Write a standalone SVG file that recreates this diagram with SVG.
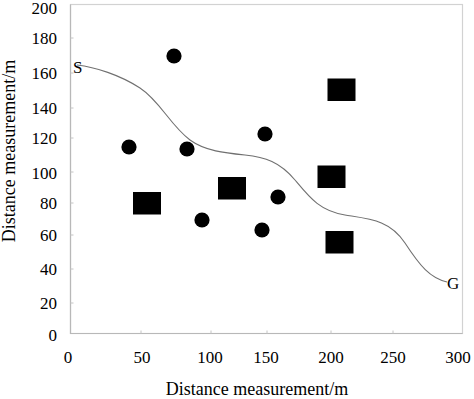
<svg xmlns="http://www.w3.org/2000/svg" width="474" height="399" viewBox="0 0 474 399">
<style>
.t{font-family:"Liberation Serif","Times New Roman",serif;fill:#000}
.tick{font-size:17px}
.yl{text-anchor:end}
.xl{text-anchor:middle}
.title{font-size:18px;text-anchor:middle}
.lab{font-size:17px}
.frame{fill:none;stroke:#d2d2d2;stroke-width:1.2}
.axis{fill:none;stroke:#b8b8b8;stroke-width:1.2}
.tk{stroke:#c4c4c4;stroke-width:1}
.dot{fill:#000}
.sq{fill:#000}
.path{fill:none;stroke:#707070;stroke-width:1.1}
</style>
<rect width="474" height="399" fill="#fff"/>
<g id="plot-frame">
<rect class="frame" x="70.5" y="4.5" width="392" height="329"/>
<path class="axis" d="M70.5,4.5 V333.5 H462.5"/>
<g id="ticks">
<path class="tk" d="M141,333.5v-3M211,333.5v-3M267,333.5v-3M331,333.5v-3M393,333.5v-3"/>
<path class="tk" d="M70.5,38h3M70.5,73h3M70.5,108h3M70.5,138h3M70.5,172h3M70.5,203h3M70.5,235h3M70.5,269h3M70.5,303h3"/>
</g>
</g>
<g id="y-labels" class="t tick yl">
<text x="57" y="13.5">200</text>
<text x="57" y="44">180</text>
<text x="57" y="79">160</text>
<text x="57" y="114">140</text>
<text x="57" y="144">120</text>
<text x="57" y="179">100</text>
<text x="57" y="209">80</text>
<text x="57" y="241">60</text>
<text x="57" y="275">40</text>
<text x="57" y="309">20</text>
<text x="57" y="341">0</text>
</g>
<g id="x-labels" class="t tick xl">
<text x="68" y="363">0</text>
<text x="142" y="363">50</text>
<text x="210" y="363">100</text>
<text x="266" y="363">150</text>
<text x="331" y="363">200</text>
<text x="393" y="363">250</text>
<text x="458" y="363">300</text>
</g>
<text id="x-title" class="t title" x="257" y="395">Distance measurement/m</text>
<text id="y-title" class="t title" transform="translate(15,151) rotate(-90)">Distance measurement/m</text>
<g id="connectors">
<path id="route" class="path" d="M77,65 C95,67 120,75 140,88 C160,101 170,125 190,140 C205,151 225,153 245,155 C265,157 280,162 295,180 C310,198 320,211 345,215 C370,219 390,220 405,243 C420,266 430,278 447,282"/>
</g>
<g id="start"><text class="t lab" x="73" y="73">S</text></g>
<g id="goal"><text class="t lab" x="447" y="289">G</text></g>
<g id="circles">
<circle class="dot" cx="174" cy="56" r="7.6"/>
<circle class="dot" cx="129" cy="147" r="7.6"/>
<circle class="dot" cx="187" cy="149" r="7.6"/>
<circle class="dot" cx="265" cy="134" r="7.6"/>
<circle class="dot" cx="278" cy="197" r="7.6"/>
<circle class="dot" cx="202" cy="220" r="7.6"/>
<circle class="dot" cx="262" cy="230" r="7.6"/>
</g>
<g id="squares">
<rect class="sq" x="133" y="192" width="28" height="22.5"/>
<rect class="sq" x="218" y="177" width="28" height="22.5"/>
<rect class="sq" x="327.5" y="78.5" width="28" height="22.5"/>
<rect class="sq" x="317.5" y="165.5" width="28" height="22.5"/>
<rect class="sq" x="325.5" y="231" width="28" height="22.5"/>
</g>
</svg>
